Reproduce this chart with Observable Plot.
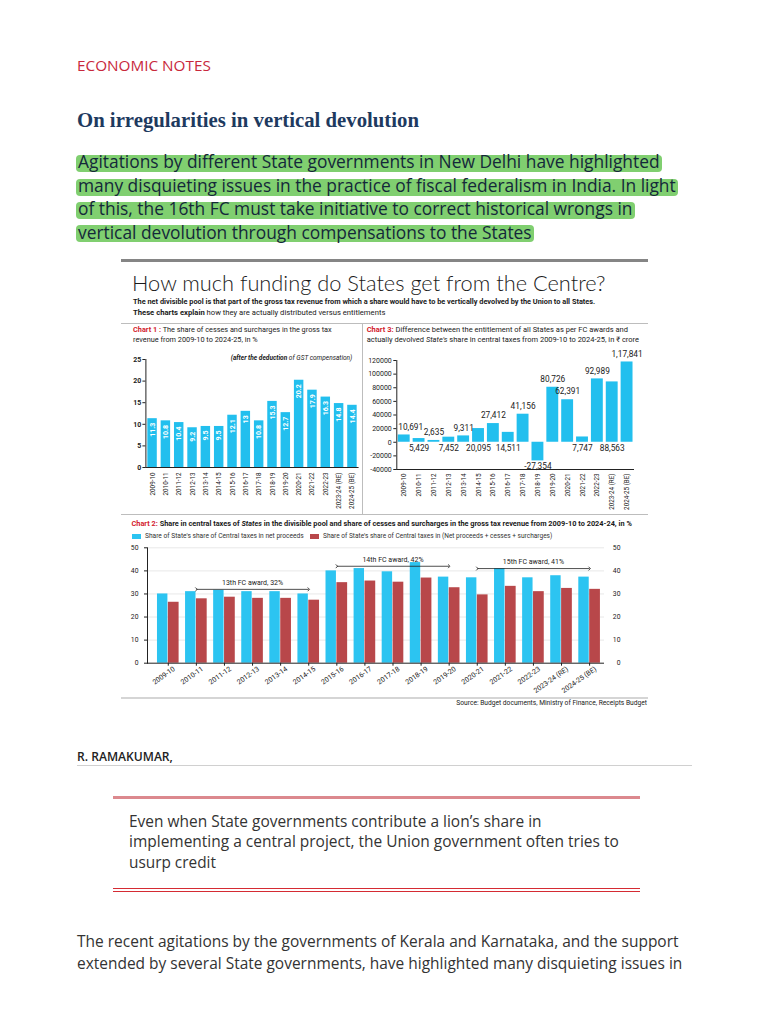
<!DOCTYPE html>
<html><head><meta charset="utf-8">
<script src="https://cdn.jsdelivr.net/npm/d3@7"></script>
<script src="https://cdn.jsdelivr.net/npm/@observablehq/plot@0.6"></script>
<style>
html,body{margin:0;padding:0;background:#fff;}
body{width:768px;height:1024px;position:relative;overflow:hidden;font-family:"Open Sans",sans-serif;}
.t{position:absolute;white-space:nowrap;line-height:1;z-index:2;}
.ln{position:absolute;z-index:1;}
.hl{position:absolute;background:#80cf70;border-radius:4px;z-index:1;}
.chart{position:absolute;z-index:1;}
.chart svg{display:block;overflow:visible;}
</style></head><body>
<script>
// ---------- data ----------
const years = ["2009-10","2010-11","2011-12","2012-13","2013-14","2014-15","2015-16","2016-17",
  "2017-18","2018-19","2019-20","2020-21","2021-22","2022-23","2023-24 (RE)","2024-25 (BE)"];
// Chart 1: share of cesses and surcharges in gross tax revenue, %
const cessShare = [11.3,10.8,10.4,9.2,9.5,9.5,12.1,13,10.8,15.3,12.7,20.2,17.9,16.3,14.8,14.4];
// Chart 3: entitlement minus actual devolution, Rs crore
const gapCrore = [10691,5429,2635,7452,9311,20095,27412,14511,41156,-27354,80726,62391,7747,92989,88563,117841];
// Chart 2: shares, %
const shareNet = [30,31,31.6,31,31,30,40,41,39.6,43.6,37.3,37,41,37,37.9,37.3];
const shareGross = [26.4,27.9,28.6,28.1,28.1,27.3,34.9,35.6,35.1,36.9,32.7,29.6,33.3,31,32.4,32];
const fcLabels = ["13th FC award, 32%","14th FC award, 42%","15th FC award, 41%"];
const fcLevel = [32, 42, 41];
const fcFrom = ["2010-11","2015-16","2020-21"];
const fcTo = ["2014-15","2019-20","2024-25 (BE)"];
const fcMid = ["2012-13","2017-18","2022-23"];
const ticks1 = [0,5,10,15,20,25];
const ticks3 = [-40000,-20000,0,20000,40000,60000,80000,100000,120000];
const ticks2 = [0,10,20,30,40,50];

const blue = "#22bfee", blue2 = "#2cc4f1", red = "#b8474a";

// ---------- helpers ----------
function T(html, x, cy, w, css, anchor) {
  const d = document.createElement("div");
  d.className = "t";
  d.innerHTML = html;
  Object.assign(d.style, css);
  document.body.appendChild(d);
  const base = parseFloat(d.style.fontSize);
  const nat = d.getBoundingClientRect().width;
  const fs = base * w / nat;
  d.style.fontSize = fs + "px";
  d.style.left = (anchor === "end" ? x - w : x) + "px";
  d.style.top = (cy - fs * 0.55) + "px";
  return d;
}
function L(x1, y, x2, h, color, cls) {
  const d = document.createElement("div");
  d.className = cls || "ln";
  Object.assign(d.style, {left: x1 + "px", top: y + "px", width: (x2 - x1) + "px", height: h + "px", background: color});
  document.body.appendChild(d);
  return d;
}
function mount(svg, left, top) {
  const d = document.createElement("div");
  d.className = "chart";
  d.style.left = left + "px"; d.style.top = top + "px";
  d.appendChild(svg);
  document.body.appendChild(d);
  return svg;
}
function inr(v) {
  const s = Math.abs(v).toString();
  let last3 = s.slice(-3), rest = s.slice(0, -3);
  if (rest) last3 = "," + last3;
  rest = rest.replace(/\B(?=(\d{2})+(?!\d))/g, ",");
  return (v < 0 ? "-" : "") + rest + last3;
}

// ---------- page text ----------
const OS = {fontFamily: "'Open Sans'", fontSize: "15px", color: "#333"};
T("ECONOMIC NOTES", 77, 66, 134, {...OS, color: "#c8283c"});
T("On irregularities in vertical devolution", 77, 121, 342,
  {fontFamily: "'Liberation Serif'", fontWeight: "bold", fontSize: "18px", color: "#1e3a5f"});
const hlLines = [
  ["Agitations by different State governments in New Delhi have highlighted", 163, 582],
  ["many disquieting issues in the practice of fiscal federalism in India. In light", 187, 598],
  ["of this, the 16th FC must take initiative to correct historical wrongs in", 210, 555],
  ["vertical devolution through compensations to the States", 233.5, 454]
];
hlLines.forEach(([s, cy, w]) => {
  L(76, cy - 8.5, 78 + w + 2, 17, "#80cf70", "hl");
  T(s, 78, cy, w, {...OS, fontSize: "17px", color: "#14283a"});
});

// graphic frame and headings
L(121, 258.5, 648, 3.5, "#858585");
T("How much funding do States get from the Centre?", 132, 284, 474,
  {fontFamily: "Lato", fontWeight: "300", fontSize: "24px", color: "#1a1a1a"});
const RB = {fontFamily: "Roboto", fontSize: "7px", color: "#1a1a1a"};
T("<b>The net divisible pool is that part of the gross tax revenue from which a share would have to be vertically devolved by the Union to all States.</b>", 133, 302, 463, RB);
T("<b>These charts explain</b> how they are actually distributed versus entitlements", 133, 313, 253, RB);
L(121, 323, 648, 1, "#bdbdbd");
L(362, 323, 363, 191, "#bdbdbd");
L(121, 514, 648, 1, "#bdbdbd");
L(121, 696.5, 648, 2, "#d5d5d5");

T('<b style="color:#d3222e">Chart 1 :</b> The share of cesses and surcharges in the gross tax', 133, 330, 199, RB);
T("revenue from 2009-10 to 2024-25, in %", 133, 340, 125, RB);
T("<i><b>(after the deduction</b> of GST compensation)</i>", 230.7, 359, 122, {...RB, fontSize: "6px"});
T('<b style="color:#d3222e">Chart 3:</b> Difference between the entitlement of all States as per FC awards and', 366.7, 330, 261.6, RB);
T("actually devolved <i>State's</i> share in central taxes from 2009-10 to 2024-25, in ₹ crore", 366.7, 340, 273, RB);
T('<b style="color:#d3222e">Chart 2:</b> <b>Share in central taxes of <i>States</i> in the divisible pool and share of cesses and surcharges in the gross tax revenue from 2009-10 to 2024-24, in %</b>', 131.5, 524, 501, RB);
L(132, 534, 141, 5, blue2);
T("Share of State's share of Central taxes in net proceeds", 145, 536.5, 159, {...RB, color: "#333"});
L(310, 534, 318.5, 5, red);
T("Share of State's share of Central taxes in (Net proceeds + cesses + surcharges)", 323, 536.5, 230, {...RB, color: "#333"});
T("Source: Budget documents, Ministry of Finance, Receipts Budget", 647.3, 704, 191, RB, "end");

T("R. RAMAKUMAR,", 77, 758, 96, {...OS, fontWeight: "600", fontSize: "13px", color: "#222"});
L(77, 765, 692, 1, "#d0d0d0");
L(113, 795.5, 640, 3, "#dc898e");
T("Even when State governments contribute a lion’s share in", 129, 823, 413, OS);
T("implementing a central project, the Union government often tries to", 129, 843, 490, OS);
T("usurp credit", 129, 863, 87, OS);
L(113, 887.5, 640, 1, "#d52b33");
L(113, 890.5, 640, 1, "#d52b33");
T("The recent agitations by the governments of Kerala and Karnataka, and the support", 77, 943, 602, {...OS, fontSize: "16px"});
T("extended by several State governments, have highlighted many disquieting issues in", 77, 965, 606, {...OS, fontSize: "16px"});

// ---------- charts ----------
const baseStyle = {fontFamily: "Roboto", fontSize: "7px", color: "#222", background: "transparent", overflow: "visible"};

// Chart 1
const rows1 = years.map((year, i) => ({year, v: cessShare[i]}));
mount(Plot.plot({
  width: 245, height: 175,
  marginLeft: 25.4, marginRight: 6.4, marginTop: 14, marginBottom: 53,
  x: {domain: years, paddingInner: 0.29, paddingOuter: 0.145, round: false},
  y: {domain: [0, 25]},
  style: baseStyle,
  marks: [
    Plot.barY(rows1, {x: "year", y: "v", fill: blue}),
    Plot.text(rows1, {x: "year", y: "v", text: d => String(d.v), rotate: -90, textAnchor: "end", dy: 4,
      fill: "#fff", fontWeight: "bold", fontSize: 7}),
    Plot.axisY({ticks: ticks1, tickSize: 3, tickPadding: 1.5, label: null, fontWeight: "bold", fontSize: 7}),
    Plot.axisX({tickRotate: -90, tickSize: 0, tickPadding: 5, label: null, fontSize: 6.3}),
    Plot.frame({anchor: "left"}),
    Plot.ruleY([0])
  ]
}), 120, 345);

// Chart 3
const rows3 = years.map((year, i) => ({year, v: gapCrore[i], i}));
const below = new Set([1, 3, 5, 7, 9, 12, 14]);
mount(Plot.plot({
  width: 286, height: 175,
  marginLeft: 34.3, marginRight: 14, marginTop: 15, marginBottom: 51,
  x: {domain: years, paddingInner: 0.2, paddingOuter: 0.1, round: false},
  y: {domain: [-40000, 120000]},
  style: baseStyle,
  marks: [
    Plot.barY(rows3, {x: "year", y: "v", fill: blue}),
    Plot.text(rows3.filter(d => !below.has(d.i) && d.i > 0), {x: "year", y: "v", text: d => inr(d.v), dy: -8, fontSize: 8.3, fill: "#222"}),
    Plot.text(rows3.filter(d => d.i === 0), {x: "year", y: "v", text: d => inr(d.v), dy: -8, dx: -6, textAnchor: "start", fontSize: 8.3, fill: "#222"}),
    Plot.text(rows3.filter(d => below.has(d.i) && d.v > 0), {x: "year", y: () => 0, text: d => inr(d.v), dy: 6.5, fontSize: 8.3, fill: "#222"}),
    Plot.text(rows3.filter(d => d.v < 0), {x: "year", y: "v", text: d => inr(d.v), dy: 5, fontSize: 8.3, fill: "#222"}),
    Plot.axisY({ticks: ticks3, tickFormat: d => String(d), tickSize: 3, tickPadding: 2, label: null, fontSize: 7}),
    Plot.axisX({tickRotate: -90, tickSize: 0, tickPadding: 4, label: null, fontSize: 6.3}),
    Plot.frame({anchor: "left"}),
    Plot.ruleY([-40000])
  ]
}), 362, 345);

// Chart 2
const rows2 = years.map((year, i) => ({year, net: shareNet[i], gross: shareGross[i]}));
const awards = fcLabels.map((label, i) => ({label, level: fcLevel[i], from: fcFrom[i], to: fcTo[i], mid: fcMid[i]}));
mount(Plot.plot({
  width: 528, height: 160,
  marginLeft: 27, marginRight: 44, marginTop: 7.3, marginBottom: 37.3,
  x: {domain: years, paddingInner: 0.23, paddingOuter: 0.25, align: 0.71, round: false},
  y: {domain: [0, 50]},
  style: baseStyle,
  marks: [
    Plot.gridY({ticks: ticks2.slice(1), stroke: "#e8e8e8", strokeOpacity: 1}),
    Plot.barY(rows2, {x: "year", y: "net", fill: blue2, insetRight: 11.2}),
    Plot.barY(rows2, {x: "year", y: "gross", fill: red, insetLeft: 10.9}),
    Plot.link(awards, {x1: "from", x2: "to", y1: "level", y2: "level", stroke: "#222", strokeWidth: 0.8,
      markerStart: "arrow", markerEnd: "arrow"}),
    Plot.text(awards, {x: "mid", y: "level", text: "label", dy: -7, fontSize: 7, fill: "#222"}),
    Plot.axisY({anchor: "left", ticks: ticks2, tickSize: 3, tickPadding: 6, label: null, fontSize: 6.8}),
    Plot.axisY({anchor: "right", ticks: ticks2, tickSize: 0, tickPadding: 16, textAnchor: "end", label: null, fontSize: 6.8}),
    Plot.axisX({tickSize: 3, tickFormat: () => "", label: null}),
    Plot.axisX({tickRotate: -35, tickSize: 0, tickPadding: 5, dx: 6, label: null, fontSize: 7}),
    Plot.frame({anchor: "left"}),
    Plot.ruleY([0])
  ]
}), 120, 540);
</script>
</body></html>
